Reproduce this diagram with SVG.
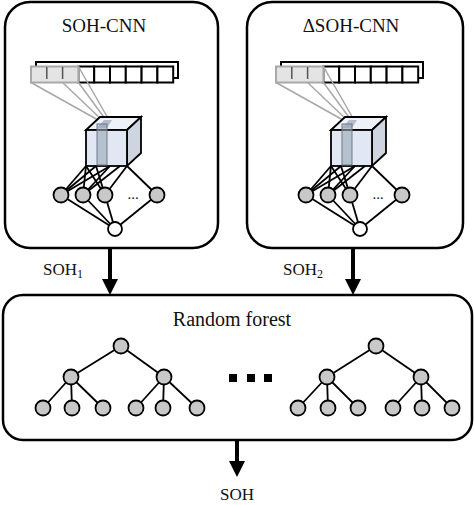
<svg xmlns="http://www.w3.org/2000/svg" width="474" height="505" viewBox="0 0 474 505">
<defs>
<style>
.box{fill:#fff;stroke:#000;stroke-width:2.5}
.t{font-family:"Liberation Serif","Times New Roman",serif;fill:#111}
.sq{fill:#fff;stroke:#000;stroke-width:2}
.gsq{fill:#e4e4e4;stroke:#a8a8a8;stroke-width:2}
.gl{stroke:#a8a8a8;stroke-width:1.5;fill:none}
.ln{stroke:#000;stroke-width:1.8;fill:none}
.n{fill:#c8c8c8;stroke:#000;stroke-width:1.8}
.o{fill:#fff;stroke:#000;stroke-width:1.8}
.ar{stroke:#000;stroke-width:4;fill:none}
.ah{fill:#000}
</style>
<g id="cnn">
<rect x="36" y="62" width="142" height="16" fill="#fff" stroke="#000" stroke-width="2"/>
<rect class="sq" x="78.4" y="66.5" width="15.8" height="16"/>
<rect class="sq" x="94.2" y="66.5" width="15.8" height="16"/>
<rect class="sq" x="110" y="66.5" width="15.8" height="16"/>
<rect class="sq" x="125.8" y="66.5" width="15.8" height="16"/>
<rect class="sq" x="141.6" y="66.5" width="15.8" height="16"/>
<rect class="sq" x="157.4" y="66.5" width="15.8" height="16"/>
<rect class="gsq" x="31" y="66.5" width="47.4" height="16"/>
<line x1="46.8" y1="67" x2="46.8" y2="79" stroke="#555" stroke-width="1.5"/>
<line x1="62.6" y1="67" x2="62.6" y2="79" stroke="#555" stroke-width="1.5"/>
<polyline class="gl" points="31,82.5 98,120"/>
<polyline class="gl" points="62.6,82.5 102,120"/>
<polyline class="gl" points="78.4,82.5 106,120"/>
<polyline class="gl" points="78.4,66.5 109,120"/>
<polygon points="86,130 100,117 141,117 127,130" fill="#eef1f8" stroke="#000" stroke-width="1.8"/>
<polygon points="127,130 141,117 141,153 127,166" fill="#cfd5e0" stroke="#000" stroke-width="1.8"/>
<rect x="86" y="130" width="41" height="36" fill="#e2e8f3" stroke="#000" stroke-width="1.8"/>
<polygon points="97,128 104,120 112,120 107,128" fill="#9aa6b8" opacity="0.7"/>
<rect x="97" y="124" width="10" height="41" fill="#9aa6b8" fill-opacity="0.6" stroke="#6d7888" stroke-width="1"/>
<g class="ln">
<line x1="86" y1="166" x2="61" y2="195"/>
<line x1="86" y1="166" x2="83" y2="195"/>
<line x1="86" y1="166" x2="105" y2="195"/>
<line x1="96" y1="166" x2="61" y2="195"/>
<line x1="96" y1="166" x2="105" y2="195"/>
<line x1="110" y1="166" x2="61" y2="195"/>
<line x1="110" y1="166" x2="83" y2="195"/>
<line x1="120" y1="166" x2="83" y2="195"/>
<line x1="127" y1="166" x2="105" y2="195"/>
<line x1="127" y1="166" x2="157" y2="195"/>
<line x1="61" y1="195" x2="115" y2="229"/>
<line x1="83" y1="195" x2="115" y2="229"/>
<line x1="105" y1="195" x2="115" y2="229"/>
<line x1="157" y1="195" x2="115" y2="229"/>
</g>
<circle class="n" cx="61" cy="195" r="7.5"/>
<circle class="n" cx="83" cy="195" r="7.5"/>
<circle class="n" cx="105" cy="195" r="7.5"/>
<circle class="n" cx="157" cy="195" r="7.5"/>
<text class="t" x="133" y="199" font-size="15" text-anchor="middle">...</text>
<circle class="o" cx="115" cy="229" r="7"/>
</g>
</defs>
<g id="soh-cnn">
<rect class="box" x="5" y="2" width="213" height="246" rx="25"/>
<text class="t" x="104" y="32" font-size="19" text-anchor="middle">SOH-CNN</text>
<use href="#cnn"/>
</g>
<g id="dsoh-cnn">
<rect class="box" x="247" y="2" width="216" height="246" rx="25"/>
<text class="t" x="351" y="32" font-size="19" text-anchor="middle">ΔSOH-CNN</text>
<use href="#cnn" x="245"/>
</g>
<g id="random-forest">
<rect class="box" x="3" y="295" width="469" height="145" rx="20"/>
<text class="t" x="232" y="326" font-size="20" text-anchor="middle">Random forest</text>
<g class="ln">
<line x1="121" y1="346" x2="71" y2="377"/><line x1="121" y1="346" x2="164" y2="377"/>
<line x1="71" y1="377" x2="43" y2="408"/><line x1="71" y1="377" x2="72" y2="408"/><line x1="71" y1="377" x2="103" y2="408"/>
<line x1="164" y1="377" x2="136" y2="408"/><line x1="164" y1="377" x2="163" y2="408"/><line x1="164" y1="377" x2="197" y2="408"/>
<line x1="376" y1="346" x2="327" y2="377"/><line x1="376" y1="346" x2="421" y2="377"/>
<line x1="327" y1="377" x2="298" y2="408"/><line x1="327" y1="377" x2="328" y2="408"/><line x1="327" y1="377" x2="358" y2="408"/>
<line x1="421" y1="377" x2="393" y2="408"/><line x1="421" y1="377" x2="422" y2="408"/><line x1="421" y1="377" x2="452" y2="408"/>
</g>
<g class="n">
<circle cx="121" cy="346" r="7.5"/><circle cx="71" cy="377" r="7.5"/><circle cx="164" cy="377" r="7.5"/>
<circle cx="43" cy="408" r="7.5"/><circle cx="72" cy="408" r="7.5"/><circle cx="103" cy="408" r="7.5"/>
<circle cx="136" cy="408" r="7.5"/><circle cx="163" cy="408" r="7.5"/><circle cx="197" cy="408" r="7.5"/>
<circle cx="376" cy="346" r="7.5"/><circle cx="327" cy="377" r="7.5"/><circle cx="421" cy="377" r="7.5"/>
<circle cx="298" cy="408" r="7.5"/><circle cx="328" cy="408" r="7.5"/><circle cx="358" cy="408" r="7.5"/>
<circle cx="393" cy="408" r="7.5"/><circle cx="422" cy="408" r="7.5"/><circle cx="452" cy="408" r="7.5"/>
</g>
<rect x="229" y="374" width="8" height="8" fill="#000"/>
<rect x="247" y="374" width="8" height="8" fill="#000"/>
<rect x="264" y="374" width="8" height="8" fill="#000"/>
</g>
<g id="connectors">
<line class="ar" x1="110" y1="248" x2="110" y2="280"/>
<polygon class="ah" points="102,279 118,279 110,295"/>
<line class="ar" x1="353" y1="248" x2="353" y2="280"/>
<polygon class="ah" points="345,279 361,279 353,295"/>
<line class="ar" x1="237" y1="440" x2="237" y2="462"/>
<polygon class="ah" points="229,461 245,461 237,477"/>
</g>
<g id="labels">
<text class="t" x="43" y="275" font-size="17">SOH<tspan font-size="12" dy="3">1</tspan></text>
<text class="t" x="283" y="275" font-size="17">SOH<tspan font-size="12" dy="3">2</tspan></text>
<text class="t" x="237" y="500" font-size="17" text-anchor="middle">SOH</text>
</g>
</svg>
